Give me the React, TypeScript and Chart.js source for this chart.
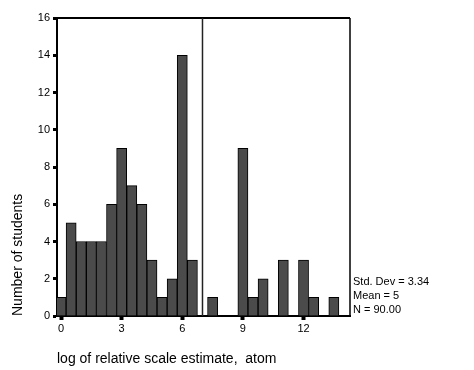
import React, { useEffect, useRef } from "react";
import { Chart, registerables } from "chart.js";

Chart.register(...registerables);

// Histogram bins (bin centres) and counts
const bins = [
  0, 0.5, 1, 1.5, 2, 2.5, 3, 3.5, 4, 4.5, 5, 5.5, 6, 6.5,
  7, 7.5, 8, 8.5, 9, 9.5, 10, 10.5, 11, 11.5, 12, 12.5, 13, 13.5,
];
const counts = [
  1, 5, 4, 4, 4, 6, 9, 7, 6, 3, 1, 2, 14, 3,
  0, 1, 0, 0, 9, 1, 2, 0, 3, 0, 3, 1, 0, 1,
];
const xTickValues = [0, 3, 6, 9, 12];
const xMin = -0.2;
const xMax = 14.3;
const yMin = 0;
const yMax = 16;
const yStep = 2;
const markerValue = 7;
const statsLines = ["Std. Dev = 3.34", "Mean = 5", "N = 90.00"];
const xTitle = "log of relative scale estimate,  atom";
const yTitle = "Number of students";

const FONT = '"Liberation Sans", Arial, sans-serif';

const framePlugin = {
  id: "frame",
  afterDatasetsDraw(chart: any) {
    const { ctx, chartArea, scales } = chart;
    const { left, right, top, bottom } = chartArea;
    ctx.save();
    ctx.strokeStyle = "#000";
    ctx.lineWidth = 2;
    ctx.beginPath();
    ctx.moveTo(left - 1, top);
    ctx.lineTo(right, top);
    ctx.stroke();
    ctx.lineWidth = 1.5;
    ctx.beginPath();
    ctx.moveTo(right, top);
    ctx.lineTo(right, bottom);
    ctx.stroke();
    const px = scales.x.getPixelForValue(markerValue);
    ctx.strokeStyle = "#222";
    ctx.lineWidth = 1.5;
    ctx.beginPath();
    ctx.moveTo(px, top);
    ctx.lineTo(px, bottom);
    ctx.stroke();
    ctx.fillStyle = "#000";
    ctx.font = `11px ${FONT}`;
    ctx.textBaseline = "middle";
    ctx.textAlign = "left";
    statsLines.forEach((t, i) => {
      ctx.fillText(t, right + 3, bottom - 34 + i * 14);
    });
    ctx.restore();
  },
};

export default function App() {
  const canvasRef = useRef<HTMLCanvasElement | null>(null);

  useEffect(() => {
    const canvas = canvasRef.current;
    if (!canvas) return;
    const chart = new Chart(canvas, {
      type: "bar",
      data: {
        datasets: [
          {
            data: bins.map((b, i) => ({ x: b, y: counts[i] })),
            backgroundColor: "#4b4b4b",
            borderColor: "#000",
            borderWidth: 1,
            barPercentage: 1,
            categoryPercentage: 1,
          },
        ],
      },
      options: {
        animation: false,
        responsive: true,
        maintainAspectRatio: false,
        layout: { padding: { top: 18, right: 124, left: 0, bottom: 0 } },
        plugins: {
          legend: { display: false },
          tooltip: { enabled: false },
        },
        scales: {
          x: {
            type: "linear",
            min: xMin,
            max: xMax,
            offset: false,
            afterBuildTicks: (scale: any) => {
              scale.ticks = xTickValues.map((v) => ({ value: v }));
            },
            afterFit: (scale: any) => {
              scale.height = 54;
            },
            ticks: {
              color: "#000",
              font: { family: FONT, size: 11 },
              padding: 2,
              maxRotation: 0,
              callback: (v: any) => String(v),
            },
            grid: {
              display: true,
              drawOnChartArea: false,
              drawTicks: true,
              offset: false,
              tickLength: 4,
              tickWidth: 4,
              tickColor: "#000",
            },
            border: { display: true, color: "#000", width: 2 },
            title: {
              display: true,
              text: xTitle,
              align: "start",
              color: "#000",
              font: { family: FONT, size: 14 },
              padding: { top: 0, bottom: 2 },
            },
          },
          y: {
            min: yMin,
            max: yMax,
            afterFit: (scale: any) => {
              scale.width = 57;
            },
            ticks: {
              stepSize: yStep,
              color: "#000",
              font: { family: FONT, size: 11 },
              padding: 3,
            },
            grid: {
              display: true,
              drawOnChartArea: false,
              drawTicks: true,
              tickLength: 4,
              tickWidth: 3,
              tickColor: "#000",
            },
            border: { display: true, color: "#000", width: 2 },
            title: {
              display: true,
              text: yTitle,
              align: "start",
              color: "#000",
              font: { family: FONT, size: 14 },
              padding: { top: 10, bottom: 0 },
            },
          },
        },
      },
      plugins: [framePlugin],
    });
    return () => chart.destroy();
  }, []);

  return (
    <div
      style={{
        position: "absolute",
        left: 0,
        top: 0,
        width: 474,
        height: 370,
        background: "#fff",
      }}
    >
      <canvas ref={canvasRef} />
    </div>
  );
}
